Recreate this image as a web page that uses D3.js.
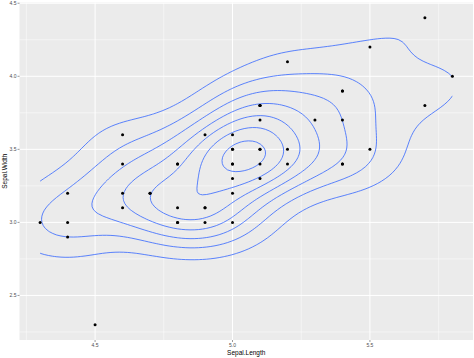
<!DOCTYPE html>
<html>
<head>
<script src="https://d3js.org/d3.v7.min.js"></script>
<style>
  body { margin: 0; background: #fff; }
  svg { font-family: 'Liberation Sans', Arial, sans-serif; display: block; }
</style>
</head>
<body>
<div id="chart"></div>
<script>
// iris setosa: Sepal.Length / Sepal.Width
const sepalLength = [5.1,4.9,4.7,4.6,5.0,5.4,4.6,5.0,4.4,4.9,5.4,4.8,4.8,4.3,5.8,5.7,5.4,5.1,5.7,5.1,
  5.4,5.1,4.6,5.1,4.8,5.0,5.0,5.2,5.2,4.7,4.8,5.4,5.2,5.5,4.9,5.0,5.5,4.9,4.4,5.1,
  5.0,4.5,4.4,5.0,5.1,4.8,5.1,4.6,5.3,5.0];
const sepalWidth = [3.5,3.0,3.2,3.1,3.6,3.9,3.4,3.4,2.9,3.1,3.7,3.4,3.0,3.0,4.0,4.4,3.9,3.5,3.8,3.8,
  3.4,3.7,3.6,3.3,3.4,3.0,3.4,3.5,3.4,3.2,3.1,3.4,4.1,4.2,3.1,3.2,3.5,3.6,3.0,3.4,
  3.5,2.3,3.2,3.5,3.8,3.0,3.8,3.2,3.7,3.3];
const xTicks = [4.5, 5.0, 5.5];
const yTicks = [2.5, 3.0, 3.5, 4.0, 4.5];
const xMinor = [4.25, 4.75, 5.25, 5.75];
const yMinor = [2.25, 2.75, 3.25, 3.75, 4.25];

const width = 474, height = 358;
const margin = {top: 2.5, right: 1, bottom: 18, left: 19.5};

const xExt = d3.extent(sepalLength), yExt = d3.extent(sepalWidth);
const xPad = (xExt[1] - xExt[0]) * 0.05, yPad = (yExt[1] - yExt[0]) * 0.05;
const x = d3.scaleLinear().domain([xExt[0] - xPad, xExt[1] + xPad]).range([margin.left, width - margin.right]);
const y = d3.scaleLinear().domain([yExt[0] - yPad, yExt[1] + yPad]).range([height - margin.bottom, margin.top]);

// MASS::bandwidth.nrd
function bandwidthNrd(v) {
  const s = [...v].sort(d3.ascending);
  const h = (d3.quantile(s, 0.75) - d3.quantile(s, 0.25)) / 1.34;
  return 4 * 1.06 * Math.min(d3.deviation(v), h) * Math.pow(v.length, -0.2);
}
function dnorm(u) { return Math.exp(-0.5 * u * u) / Math.sqrt(2 * Math.PI); }

// MASS::kde2d on a 100 x 100 grid over the data range
const n = 100;
const hx = bandwidthNrd(sepalLength) / 4, hy = bandwidthNrd(sepalWidth) / 4;
const gx = d3.range(n).map(i => xExt[0] + i * (xExt[1] - xExt[0]) / (n - 1));
const gy = d3.range(n).map(j => yExt[0] + j * (yExt[1] - yExt[0]) / (n - 1));
const values = new Array(n * n);
for (let j = 0; j < n; j++) {
  for (let i = 0; i < n; i++) {
    let s = 0;
    for (let k = 0; k < sepalLength.length; k++) {
      s += dnorm((gx[i] - sepalLength[k]) / hx) * dnorm((gy[j] - sepalWidth[k]) / hy);
    }
    values[i + j * n] = s / (sepalLength.length * hx * hy);
  }
}

// R's pretty()
function pretty(lo, hi, ndiv) {
  const cell = (hi - lo) / ndiv;
  const U = Math.pow(10, Math.floor(Math.log10(cell)));
  let unit = U;
  if (2 * U - cell < 1.5 * (cell - unit)) { unit = 2 * U;
    if (5 * U - cell < 2.75 * (cell - unit)) { unit = 5 * U;
      if (10 * U - cell < 1.5 * (cell - unit)) unit = 10 * U; } }
  const ns = Math.floor(lo / unit + 1e-7), nu = Math.ceil(hi / unit - 1e-7);
  return d3.range(ns, nu + 1).map(k => k * unit);
}
const breaks = pretty(d3.min(values), d3.max(values), 10).filter(b => b > 0);

const svg = d3.select("#chart").append("svg").attr("width", width).attr("height", height);

svg.append("rect")
  .attr("x", x.range()[0]).attr("y", y.range()[1])
  .attr("width", x.range()[1] - x.range()[0]).attr("height", y.range()[0] - y.range()[1])
  .attr("fill", "#EBEBEB");

const grid = svg.append("g").attr("stroke", "#fff");
grid.selectAll(".xmin").data(xMinor).join("line")
  .attr("x1", d => x(d)).attr("x2", d => x(d)).attr("y1", y.range()[0]).attr("y2", y.range()[1]).attr("stroke-width", 0.5);
grid.selectAll(".ymin").data(yMinor).join("line")
  .attr("y1", d => y(d)).attr("y2", d => y(d)).attr("x1", x.range()[0]).attr("x2", x.range()[1]).attr("stroke-width", 0.5);
grid.selectAll(".xmaj").data(xTicks).join("line")
  .attr("x1", d => x(d)).attr("x2", d => x(d)).attr("y1", y.range()[0]).attr("y2", y.range()[1]).attr("stroke-width", 1);
grid.selectAll(".ymaj").data(yTicks).join("line")
  .attr("y1", d => y(d)).attr("y2", d => y(d)).attr("x1", x.range()[0]).attr("x2", x.range()[1]).attr("stroke-width", 1);

// contours
const contours = d3.contours().size([n, n]).thresholds(breaks)(values);
const stepX = (xExt[1] - xExt[0]) / (n - 1), stepY = (yExt[1] - yExt[0]) / (n - 1);
const proj = d3.geoTransform({
  point: function(px, py) {
    this.stream.point(x(xExt[0] + (px - 0.5) * stepX), y(yExt[0] + (py - 0.5) * stepY));
  }
});
svg.append("clipPath").attr("id", "clip").append("rect")
  .attr("x", x(xExt[0])).attr("y", y(yExt[1]))
  .attr("width", x(xExt[1]) - x(xExt[0])).attr("height", y(yExt[0]) - y(yExt[1]));
svg.append("g").attr("clip-path", "url(#clip)")
  .selectAll("path").data(contours).join("path")
  .attr("d", d3.geoPath(proj))
  .attr("fill", "none").attr("stroke", "#3366FF").attr("stroke-width", 0.8);

// points
svg.append("g").selectAll("circle").data(sepalLength).join("circle")
  .attr("cx", d => x(d)).attr("cy", (d, i) => y(sepalWidth[i]))
  .attr("r", 1.5).attr("fill", "#000");

// axes
const tickCol = "#333333", labCol = "#4D4D4D";
const bottom = y.range()[0];
svg.append("g").selectAll("line").data(xTicks).join("line")
  .attr("x1", d => x(d)).attr("x2", d => x(d)).attr("y1", bottom).attr("y2", bottom + 2)
  .attr("stroke", tickCol).attr("stroke-width", 0.5);
svg.append("g").selectAll("text").data(xTicks).join("text")
  .attr("x", d => x(d)).attr("y", bottom + 7)
  .attr("text-anchor", "middle").attr("font-size", 5).attr("fill", labCol)
  .text(d => d.toFixed(1));
const left = x.range()[0];
svg.append("g").selectAll("line").data(yTicks).join("line")
  .attr("y1", d => y(d)).attr("y2", d => y(d)).attr("x1", left - 2).attr("x2", left)
  .attr("stroke", tickCol).attr("stroke-width", 0.5);
svg.append("g").selectAll("text").data(yTicks).join("text")
  .attr("x", left - 3).attr("y", d => y(d)).attr("dy", "0.35em")
  .attr("text-anchor", "end").attr("font-size", 5).attr("fill", labCol)
  .text(d => d.toFixed(1));

svg.append("text")
  .attr("x", (x.range()[0] + x.range()[1]) / 2).attr("y", height - 3)
  .attr("text-anchor", "middle").attr("font-size", 6.5).attr("fill", "#000")
  .text("Sepal.Length");
svg.append("text")
  .attr("transform", `translate(7,${(y.range()[0] + y.range()[1]) / 2}) rotate(-90)`)
  .attr("text-anchor", "middle").attr("font-size", 6.5).attr("fill", "#000")
  .text("Sepal.Width");
</script>
</body>
</html>
